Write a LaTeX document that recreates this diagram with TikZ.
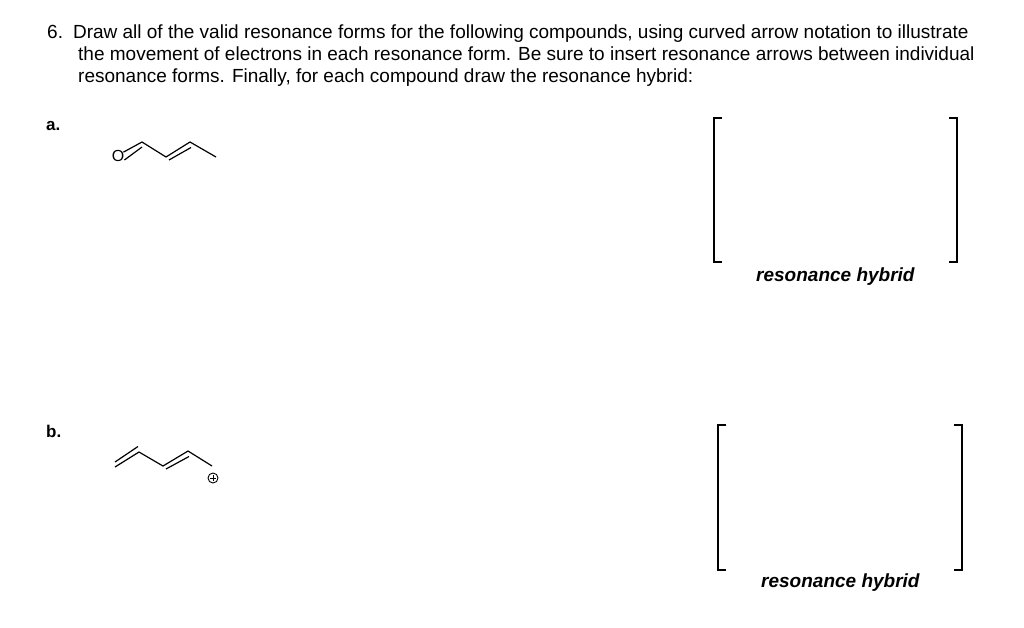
\documentclass[tikz,border=0pt]{standalone}
\usepackage{fontspec}
\setmainfont{Liberation Sans}
\begin{document}
\begin{tikzpicture}[x=1pt,y=-1pt,
  txt/.style={anchor=base west,inner sep=0,font=\fontsize{19}{22}\selectfont},
  bond/.style={line width=1.2pt},
  brk/.style={line width=1.1pt}]
\useasboundingbox (0,0) rectangle (1024,627);
\node[txt] (q1) at (47,38) {6.\hspace{10pt}Draw all of the valid resonance forms for the following compounds, using curved arrow notation to illustrate};
\node[txt] (q2) at (78,60) {the movement of electrons in each resonance form. Be sure to insert resonance arrows between individual};
\node[txt] (q3) at (78,82) {resonance forms. Finally, for each compound draw the resonance hybrid:};
\node[txt,font=\bfseries\fontsize{17}{20}\selectfont] (la) at (46,130) {a.};
\node[txt,font=\bfseries\fontsize{17}{20}\selectfont] (lb) at (46,437) {b.};
% molecule a
\node[inner sep=0,font=\fontsize{16}{18}\selectfont] (O) at (118,156) {O};
\coordinate (a1) at (142,142); \coordinate (a2) at (166,157);
\coordinate (a3) at (190,142); \coordinate (a4) at (216,157);
\draw[bond] ([shift={(-1,2)}]O.north east) -- (a1) -- (a2) -- (a3) -- (a4);
\draw[bond] ([shift={(0,4)}]O.east) -- ([shift={(0,5)}]a1);
\draw[bond] ([shift={(3,3)}]a2) -- ([shift={(1,5.5)}]a3);
% molecule b
\coordinate (b1) at (115,467); \coordinate (b2) at (139,452); \coordinate (b3) at (163,466);
\coordinate (b4) at (188,451); \coordinate (b5) at (212,466);
\draw[bond] (b1) -- (b2) -- (b3) -- (b4) -- (b5);
\draw[bond] ([shift={(0,-5)}]b1) -- ([shift={(-1,-5.5)}]b2);
\draw[bond] ([shift={(3,3)}]b3) -- ([shift={(1,5.5)}]b4);
\node[circle,draw,line width=0.9pt,inner sep=0,minimum size=10pt] (plus) at (213,478) {};
\draw[line width=0.9pt] ([xshift=-3pt]plus.center) -- ([xshift=3pt]plus.center);
\draw[line width=0.9pt] ([yshift=-3pt]plus.center) -- ([yshift=3pt]plus.center);
% brackets
\draw[brk] (722,118) -- (714,118) -- (714,262) -- (722,262);
\draw[brk] (949,118) -- (957,118) -- (957,262) -- (949,262);
\node[txt,font=\bfseries\itshape\fontsize{19}{22}\selectfont] (h1) at (756,281) {resonance hybrid};
\draw[brk] (726,425) -- (718,425) -- (718,570) -- (726,570);
\draw[brk] (954,425) -- (962,425) -- (962,570) -- (954,570);
\node[txt,font=\bfseries\itshape\fontsize{19}{22}\selectfont] (h2) at (761,587) {resonance hybrid};
\end{tikzpicture}
\end{document}
